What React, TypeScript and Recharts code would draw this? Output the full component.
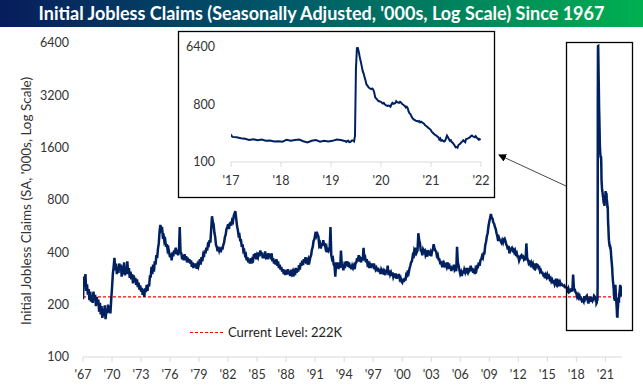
import { LineChart, Line, XAxis, YAxis, ReferenceLine } from "recharts";

// Monthly initial claims ('000s, SA)
const claims1967to1969 = [
  215, 290, 255, 300, 240, 262, 228, 246, 212, 238, 208, 226,
  205, 238, 212, 228, 196, 222, 200, 214, 182, 205, 176, 196,
  168, 190, 172, 198, 165, 186, 178, 200, 180, 196, 178, 214,
];
const claims1970s = [
  250, 300, 330, 372, 315, 345, 300, 330, 305, 345, 320, 340,
  290, 335, 300, 350, 295, 320, 300, 355, 300, 325, 285, 310,
  280, 300, 265, 295, 270, 285, 260, 280, 252, 268, 244, 258,
  238, 250, 228, 245, 222, 248, 236, 260, 240, 262, 255, 290,
  290, 330, 300, 340, 310, 355, 340, 385, 370, 420, 450, 530,
  575, 545, 560, 495, 500, 460, 470, 430, 445, 410, 420, 395,
  375, 395, 360, 400, 380, 410, 395, 425, 390, 415, 385, 400,
  560, 400, 395, 365, 385, 360, 390, 362, 380, 350, 372, 350,
  365, 345, 360, 330, 350, 325, 345, 330, 345, 322, 340, 330,
  345, 365, 340, 375, 355, 385, 375, 410, 395, 425, 410, 445,
];
const claims1980s = [
  440, 470, 455, 540, 645, 600, 580, 520, 490, 440, 430, 405,
  430, 410, 425, 400, 430, 415, 440, 455, 490, 505, 545, 555,
  580, 545, 585, 590, 570, 610, 600, 650, 670, 690, 630, 570,
  540, 500, 505, 470, 470, 430, 445, 405, 410, 385, 390, 360,
  375, 350, 365, 345, 370, 345, 365, 360, 390, 370, 395, 365,
  385, 375, 400, 380, 410, 385, 400, 370, 390, 370, 405, 375,
  380, 365, 395, 375, 390, 365, 395, 355, 370, 345, 360, 340,
  365, 335, 355, 325, 340, 318, 330, 310, 320, 300, 318, 296,
  315, 298, 320, 300, 312, 292, 318, 302, 310, 290, 306, 296,
  325, 305, 322, 310, 338, 318, 348, 335, 358, 338, 365, 350,
];
const claims1990s = [
  375, 345, 355, 340, 365, 355, 375, 385, 415, 430, 465, 475,
  505, 495, 525, 505, 495, 440, 450, 420, 450, 435, 470, 445,
  445, 420, 430, 400, 425, 410, 420, 560, 385, 365, 370, 340,
  335, 290, 350, 330, 350, 320, 345, 325, 410, 340, 335, 315,
  335, 325, 355, 335, 355, 330, 350, 325, 340, 320, 335, 325,
  335, 320, 345, 350, 370, 355, 385, 355, 365, 350, 375, 360,
  425, 370, 375, 350, 365, 340, 345, 325, 338, 325, 345, 330,
  345, 320, 330, 318, 325, 312, 326, 308, 320, 300, 318, 310,
  315, 298, 308, 296, 318, 305, 335, 296, 315, 298, 306, 292,
  306, 288, 296, 292, 302, 282, 298, 284, 300, 280, 285, 272,
];
const claims2000s = [
  268, 282, 270, 285, 275, 298, 295, 315, 305, 322, 335, 350,
  355, 380, 370, 410, 400, 425, 400, 410, 515, 470, 450, 410,
  405, 385, 415, 405, 410, 385, 395, 378, 412, 390, 388, 400,
  380, 405, 415, 445, 425, 410, 405, 382, 388, 365, 365, 348,
  350, 338, 345, 328, 345, 335, 340, 330, 350, 335, 345, 320,
  335, 312, 330, 318, 340, 318, 325, 312, 430, 350, 335, 315,
  300, 308, 292, 315, 302, 318, 308, 325, 310, 305, 325, 312,
  318, 335, 312, 325, 305, 320, 300, 322, 315, 332, 330, 350,
  335, 360, 365, 380, 372, 395, 395, 440, 460, 495, 515, 565,
  600, 630, 665, 635, 625, 595, 585, 560, 545, 515, 495, 465,
];
const claims2010s = [
  485, 470, 465, 455, 470, 455, 475, 480, 465, 445, 435, 415,
  435, 395, 410, 420, 425, 410, 415, 400, 410, 392, 398, 378,
  378, 358, 368, 380, 385, 375, 378, 365, 372, 360, 450, 370,
  362, 345, 350, 340, 350, 338, 345, 325, 322, 345, 330, 340,
  338, 326, 328, 310, 315, 305, 305, 296, 298, 284, 296, 288,
  298, 288, 292, 280, 284, 272, 278, 270, 272, 262, 272, 265,
  282, 262, 268, 255, 268, 260, 262, 258, 256, 258, 252, 252,
  250, 242, 248, 236, 238, 245, 246, 238, 298, 248, 244, 236,
  232, 222, 228, 220, 225, 216, 218, 210, 212, 208, 224, 216,
  222, 225, 212, 203, 215, 222, 208, 215, 210, 215, 225, 222,
];
// Weekly from the week ending 4 Jan 2020
const claimsWeekly2020to2022 = [
  212, 207, 214, 216, 204, 205, 212, 219, 217, 211, 256, 2920, 6140,
  6150, 5300, 4400, 3800, 3200, 2700, 2450, 2150, 1900, 1650, 1580, 1500, 1450,
  1420, 1400, 1430, 1380, 1250, 1050, 1000, 960, 920, 900, 890, 880, 850,
  830, 850, 810, 780, 770, 760, 770, 760, 740, 800, 850, 820, 830,
  840, 900, 870, 860, 850, 880, 860, 820, 800, 780, 760, 720, 740,
  700, 620, 580, 560, 520, 490, 470, 460, 450, 440, 440, 430, 440,
  420, 430, 420, 410, 400, 380, 370, 360, 350, 340, 330, 320, 300,
  290, 280, 270, 265, 260, 250, 245, 225, 235, 215, 220, 215, 210,
  215, 235, 260, 245, 230, 215, 220, 205, 200, 190, 182, 170, 172,
  168, 185, 190, 195, 205, 210, 220, 212, 205, 230, 232, 235, 240,
  245, 255, 260, 252, 250, 245, 255, 240, 235, 225, 230, 222,
];

const CURRENT_LEVEL = 222;
const MAIN_TICK_YEARS = [1967, 1970, 1973, 1976, 1979, 1982, 1985, 1988, 1991, 1994, 1997, 2000, 2003, 2006, 2009, 2012, 2015, 2018, 2021];
const LOG_TICKS = [100, 200, 400, 800, 1600, 3200, 6400];
const INSET_LOG_TICKS = [100, 800, 6400];
const INSET_LABELS = ["'17", "'18", "'19", "'20", "'21", "'22"];

const monthlyBlocks = [
  { start: 1967, values: claims1967to1969 },
  { start: 1970, values: claims1970s },
  { start: 1980, values: claims1980s },
  { start: 1990, values: claims1990s },
  { start: 2000, values: claims2000s },
  { start: 2010, values: claims2010s },
];

const series: { t: number; claims: number }[] = [];
monthlyBlocks.forEach((b) =>
  b.values.forEach((v, i) => series.push({ t: b.start + i / 12, claims: v }))
);
claimsWeekly2020to2022.forEach((v, i) =>
  series.push({ t: 2020 + (3 + 7 * i) / 365.25, claims: v })
);

const END = 2022.72;
// the inset's year labels sit a few months behind its data, as in the source
const INSET_START = END - 5;
const insetSeries = series.filter((d) => d.t >= INSET_START - 0.1);
const insetTicks = INSET_LABELS.map((_, i) => INSET_START + i);

const FONT = "Lato, 'Liberation Sans', sans-serif";
const NAVY = "#002060";
const tickStyle = { fill: "#333", fontSize: 12.5, fontFamily: FONT };

export default function App() {
  return (
    <div style={{ position: "absolute", left: 0, top: 0, width: 643, height: 391, background: "#fff", fontFamily: FONT }}>
      <div
        style={{
          position: "absolute", left: 0, top: 0, width: 643, height: 27,
          background: "linear-gradient(to right, #071d5c, #005a68 45%, #00b050)",
          color: "#fff", fontWeight: 700, fontSize: 18, lineHeight: "27px", textAlign: "center",
        }}
      >
        Initial Jobless Claims (Seasonally Adjusted, '000s, Log Scale) Since 1967
      </div>

      <LineChart
        width={643}
        height={364}
        data={series}
        margin={{ top: 16, right: 21, bottom: 0, left: 0 }}
        style={{ position: "absolute", left: 0, top: 27 }}
      >
        <XAxis
          dataKey="t"
          type="number"
          domain={[1967, END]}
          ticks={MAIN_TICK_YEARS}
          tickFormatter={(v: number) => `'${String(v).slice(2)}`}
          allowDataOverflow
          height={34}
          stroke="#d9d9d9"
          tickSize={5}
          tickMargin={8}
          tick={tickStyle}
        />
        <YAxis
          type="number"
          scale="log"
          domain={[100, 6400]}
          ticks={LOG_TICKS}
          allowDataOverflow
          width={83}
          axisLine={false}
          tickLine={false}
          tickSize={6}
          tickMargin={8}
          tick={tickStyle}
        />
        <ReferenceLine y={CURRENT_LEVEL} stroke="#ff0000" strokeWidth={1.2} strokeDasharray="3 2" />
        <Line dataKey="claims" stroke={NAVY} strokeWidth={2.5} dot={false} isAnimationActive={false} />
      </LineChart>

      <div style={{ position: "absolute", left: 178, top: 31, width: 317, height: 167, background: "#fff" }}>
        <LineChart
          width={317}
          height={167}
          data={insetSeries}
          margin={{ top: 16, right: 14, bottom: 0, left: 0 }}
        >
          <XAxis
            dataKey="t"
            type="number"
            domain={[INSET_START, END]}
            ticks={insetTicks}
            tickFormatter={(_v: number, i: number) => INSET_LABELS[i]}
            allowDataOverflow
            height={36}
            stroke="#d9d9d9"
            tickSize={5}
            tickMargin={9}
            tick={tickStyle}
          />
          <YAxis
            type="number"
            scale="log"
            domain={[100, 6400]}
            ticks={INSET_LOG_TICKS}
            allowDataOverflow
            width={53}
            axisLine={false}
            tickLine={false}
            tickSize={6}
            tickMargin={10}
            tick={tickStyle}
          />
          <Line dataKey="claims" stroke={NAVY} strokeWidth={2} dot={false} isAnimationActive={false} />
        </LineChart>
      </div>

      <svg width={643} height={391} style={{ position: "absolute", left: 0, top: 0, pointerEvents: "none" }}>
        <defs>
          <marker id="head" markerWidth="8" markerHeight="8" refX="7" refY="4" orient="auto" markerUnits="userSpaceOnUse">
            <path d="M0,0 L8,4 L0,8 z" fill="#000" />
          </marker>
        </defs>
        <rect x={178.5} y={31.5} width={316} height={166} fill="none" stroke="#000" strokeWidth={1.3} />
        <rect x={566.5} y={42.5} width={66} height={288} fill="none" stroke="#000" strokeWidth={1.3} />
        <line x1={566} y1={186} x2={499} y2={155} stroke="#333" strokeWidth={0.9} markerEnd="url(#head)" />
        <text
          transform="translate(31,201) rotate(-90)"
          textAnchor="middle"
          fontFamily={FONT}
          fontSize={13.5}
          fill="#333"
        >
          Initial Jobless Claims (SA, '000s, Log Scale)
        </text>
        <line x1={190} y1={332.5} x2={223} y2={332.5} stroke="#ff0000" strokeWidth={1.2} strokeDasharray="3 2" />
        <text x={228} y={337} fontFamily={FONT} fontSize={13} fill="#222">
          Current Level: 222K
        </text>
      </svg>
    </div>
  );
}
